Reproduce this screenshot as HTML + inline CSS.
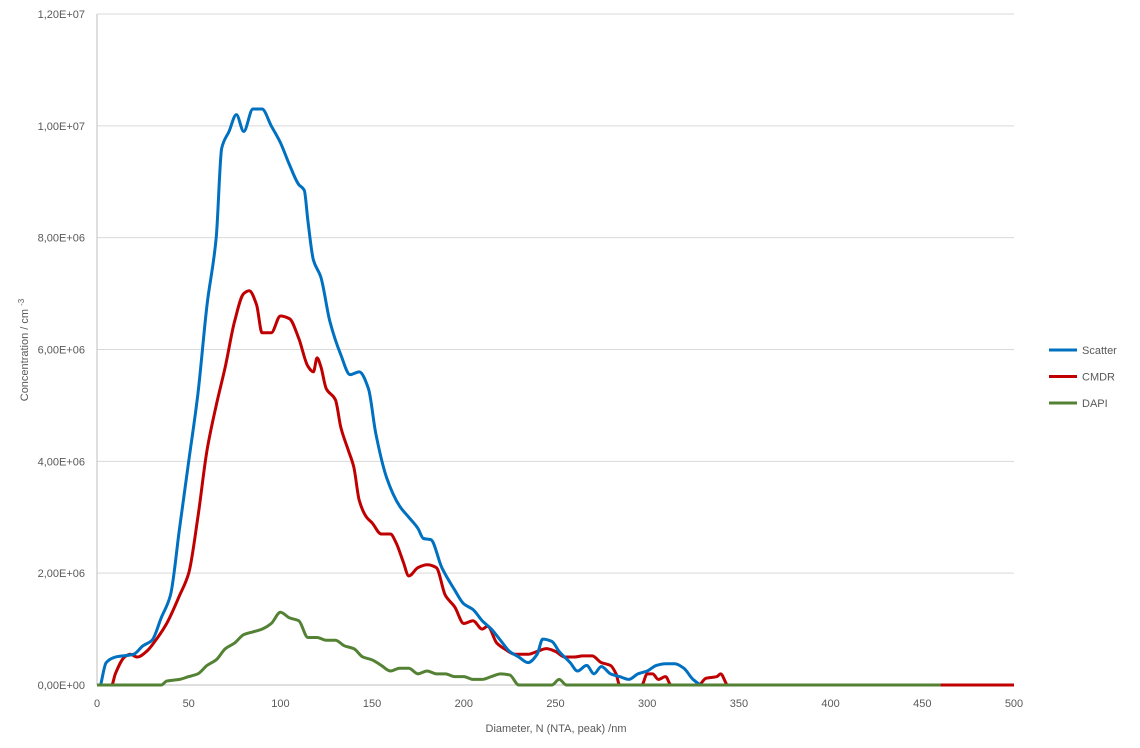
<!DOCTYPE html>
<html><head><meta charset="utf-8"><style>
body{margin:0;background:#fff;font-family:"Liberation Sans",sans-serif;}
svg text{font-family:"Liberation Sans",sans-serif;fill:#595959;font-size:11px;}
</style></head><body>
<svg id="chart" width="1140" height="743">
<g id="grid"></g>
<g id="yticks"></g>
<g id="xticks"></g>
<g id="series"></g>
<text x="556" y="732" text-anchor="middle" font-size="12">Diameter, N (NTA, peak) /nm</text>
<text transform="translate(28,350) rotate(-90)" text-anchor="middle" font-size="12">Concentration / cm <tspan dy="-4" font-size="8">-3</tspan></text>
<g id="legend"></g>
</svg>
<script>
const yTicks=[0,2,4,6,8,10,12];
const yTickLabels=["0,00E+00","2,00E+06","4,00E+06","6,00E+06","8,00E+06","1,00E+07","1,20E+07"];
const xTicks=[0,50,100,150,200,250,300,350,400,450,500];
const seriesNames=["Scatter","CMDR","DAPI"];
const seriesColors=["#0070c0","#c00000","#548235"];
const scatterX=[2,5,10,20,25,30,35,40,45,50,55,60,65,68,72,76,80,85,90,95,100,105,110,113,115,118,122,127,133,138,143,148,152,158,165,170,175,178,182,188,195,200,205,210,215,220,225,230,235,240,243,248,252,258,262,267,271,275,280,285,290,295,300,305,310,315,320,325,330,400,460];
const scatterY=[0,0.4,0.5,0.55,0.7,0.8,1.2,1.6,2.8,4.0,5.2,6.8,8.0,9.6,9.9,10.2,9.9,10.3,10.3,10.0,9.7,9.3,8.95,8.85,8.3,7.6,7.3,6.5,5.9,5.55,5.6,5.3,4.5,3.7,3.2,3.0,2.8,2.62,2.6,2.1,1.7,1.45,1.35,1.15,1.0,0.8,0.6,0.5,0.4,0.55,0.82,0.78,0.6,0.4,0.25,0.35,0.2,0.33,0.2,0.15,0.1,0.2,0.25,0.35,0.38,0.38,0.3,0.1,0,0,0];
const cmdrX=[0,8,10,15,18,22,27,32,38,45,50,55,60,65,70,75,80,83,87,90,95,100,105,110,115,118,120,122,125,130,133,137,140,143,147,150,155,160,163,167,170,175,180,185,190,195,200,205,210,213,218,222,228,235,240,245,250,255,260,265,270,275,280,283,285,297,300,303,306,310,313,328,332,338,340,344,420,500];
const cmdrY=[0,0,0.2,0.5,0.55,0.5,0.6,0.8,1.1,1.6,2.0,3.0,4.2,5.0,5.7,6.5,7.0,7.05,6.8,6.3,6.3,6.6,6.55,6.2,5.7,5.6,5.85,5.7,5.3,5.1,4.6,4.2,3.9,3.3,3.0,2.9,2.7,2.7,2.55,2.2,1.95,2.1,2.15,2.1,1.6,1.4,1.1,1.15,1.0,1.05,0.75,0.65,0.55,0.55,0.6,0.65,0.6,0.5,0.5,0.52,0.52,0.4,0.35,0.2,0,0,0.2,0.2,0.1,0.15,0,0,0.12,0.15,0.2,0,0,0];
const dapiX=[0,35,38,45,50,55,60,65,70,75,80,85,90,95,100,105,110,115,120,125,130,135,140,145,150,155,160,165,170,175,180,185,190,195,200,205,210,215,220,225,230,248,252,256,350,460];
const dapiY=[0,0,0.07,0.1,0.15,0.2,0.35,0.45,0.65,0.75,0.9,0.95,1.0,1.1,1.3,1.2,1.15,0.85,0.85,0.8,0.8,0.7,0.65,0.5,0.45,0.35,0.25,0.3,0.3,0.2,0.25,0.2,0.2,0.15,0.15,0.1,0.1,0.15,0.2,0.18,0,0,0.1,0,0,0];
const X0=97,X1=1014,Y0=685,Y1=14;
const sx=v=>X0+(v/500)*(X1-X0);
const sy=v=>Y0-(v/12)*(Y0-Y1);
const NS="http://www.w3.org/2000/svg";
function mk(t,a,p){const e=document.createElementNS(NS,t);for(const k in a)e.setAttribute(k,a[k]);p.appendChild(e);return e;}
const grid=document.getElementById('grid'),yt=document.getElementById('yticks'),xt=document.getElementById('xticks');
yTicks.forEach((v,i)=>{
 const l=mk('line',{x1:X0,x2:X1,y1:sy(v),y2:sy(v),stroke:i==0?'#bfbfbf':'#d9d9d9','stroke-width':1},grid);
 
 
 const t=mk('text',{x:85,y:sy(v)+4,'text-anchor':'end'},yt);t.textContent=yTickLabels[i];
 
 
});
const ax=mk('line',{x1:X0,x2:X0,y1:Y1,y2:Y0,stroke:'#bfbfbf'},grid);


xTicks.forEach(v=>{
 const t=mk('text',{x:sx(v),y:707,'text-anchor':'middle'},xt);t.textContent=v;
 
 
});
function path(xs,ys){
 const px=xs.map(sx),py=ys.map(sy),n=px.length;
 const d=[],m=[];
 for(let i=0;i<n-1;i++)d.push((py[i+1]-py[i])/(px[i+1]-px[i]));
 for(let i=0;i<n;i++){
  if(i==0)m.push(d[0]);else if(i==n-1)m.push(d[n-2]);
  else if(d[i-1]*d[i]<=0)m.push(0);
  else{const h0=px[i]-px[i-1],h1=px[i+1]-px[i];const w1=2*h1+h0,w2=h1+2*h0;m.push((w1+w2)/(w1/d[i-1]+w2/d[i]));}
 }
 let s=`M${px[0]},${py[0]}`;
 for(let i=0;i<n-1;i++){
  const h=(px[i+1]-px[i])/3;
  s+=` C${px[i]+h},${py[i]+m[i]*h} ${px[i+1]-h},${py[i+1]-m[i+1]*h} ${px[i+1]},${py[i+1]}`;
 }
 return s;
}
const sg=document.getElementById('series');
const data=[[scatterX,scatterY],[cmdrX,cmdrY],[dapiX,dapiY]];
[1,0,2].forEach(i=>{
 const p=mk('path',{d:path(data[i][0],data[i][1]),fill:'none',stroke:seriesColors[i],'stroke-width':3,'stroke-linejoin':'round'},sg);
 
 
});
const lg=document.getElementById('legend');
seriesNames.forEach((n,i)=>{
 const y=350+i*26.5;
 const l=mk('line',{x1:1049,x2:1077,y1:y,y2:y,stroke:seriesColors[i],'stroke-width':3},lg);
 
 
 const t=mk('text',{x:1082,y:y+4},lg);t.textContent=n;
 
 
});
</script>
</body></html>
